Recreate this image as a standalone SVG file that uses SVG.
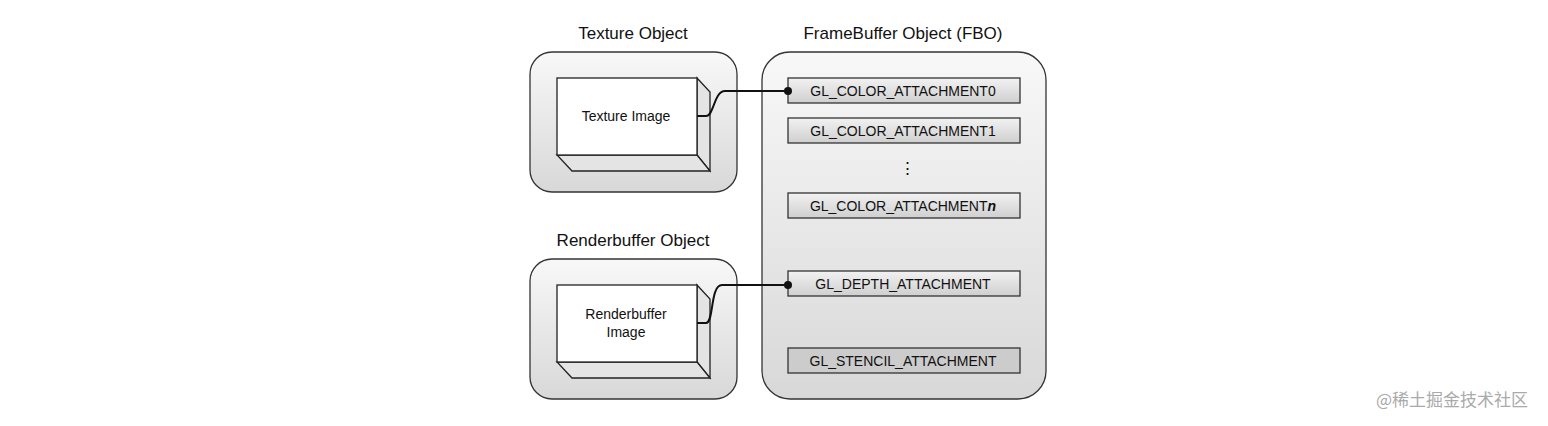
<svg xmlns="http://www.w3.org/2000/svg" width="1548" height="426" viewBox="0 0 1548 426">
<style>
text{font-family:"Liberation Sans",Arial,sans-serif;fill:#111}
.t{font-size:17px;text-anchor:middle}
.s{font-size:14px;text-anchor:middle}
.outer{fill:url(#og);stroke:#333;stroke-width:1.3}
.att{fill:url(#ag);stroke:#333;stroke-width:1.3}
.face{fill:#fff;stroke:#222;stroke-width:1.3}
.side{fill:#e4e4e4;stroke:#222;stroke-width:1.3}
.conn{fill:none;stroke:#111;stroke-width:2}
</style>
<defs>
<linearGradient id="og" x1="0" y1="0" x2="0" y2="1"><stop offset="0" stop-color="#f8f8f8"/><stop offset="1" stop-color="#d8d8d8"/></linearGradient>
<linearGradient id="ag" x1="0" y1="0" x2="0" y2="1"><stop offset="0" stop-color="#f2f2f2"/><stop offset="1" stop-color="#cfcfcf"/></linearGradient>
</defs>
<rect width="1548" height="426" fill="#fff"/>
<g id="texture">
<text class="t" x="633" y="39">Texture Object</text>
<rect class="outer" x="530" y="52" width="207" height="140" rx="22"/>
<polygon class="side" points="697,78 710,92 710,171 697,155"/>
<polygon class="side" points="557,155 697,155 710,171 572,171"/>
<rect class="face" x="557" y="78" width="140" height="77"/>
<text class="s" x="626" y="121">Texture Image</text>
</g>
<g id="renderbuffer">
<text class="t" x="633" y="246">Renderbuffer Object</text>
<rect class="outer" x="530" y="259" width="207" height="140" rx="22"/>
<polygon class="side" points="697,285 710,299 710,378 697,362"/>
<polygon class="side" points="557,362 697,362 710,378 572,378"/>
<rect class="face" x="557" y="285" width="140" height="77"/>
<text class="s" x="626" y="319">Renderbuffer</text>
<text class="s" x="626" y="337">Image</text>
</g>
<g id="fbo">
<text class="t" x="903" y="39">FrameBuffer Object (FBO)</text>
<rect class="outer" x="762" y="52" width="284" height="347" rx="28"/>
<rect class="att" x="788" y="78" width="232" height="25"/>
<text class="s" x="903" y="96">GL_COLOR_ATTACHMENT0</text>
<rect class="att" x="788" y="118" width="232" height="25"/>
<text class="s" x="903" y="136">GL_COLOR_ATTACHMENT1</text>
<text class="t" x="907" y="174">⋮</text>
<rect class="att" x="788" y="193" width="232" height="25"/>
<text class="s" x="903" y="211">GL_COLOR_ATTACHMENT<tspan font-weight="bold" font-style="italic">n</tspan></text>
<rect class="att" x="788" y="271" width="232" height="25"/>
<text class="s" x="903" y="289">GL_DEPTH_ATTACHMENT</text>
<rect class="att" x="788" y="348" width="232" height="25" style="fill:#cccccc"/>
<text class="s" x="903" y="366">GL_STENCIL_ATTACHMENT</text>
</g>
<g id="connectors">
<path class="conn" d="M697,116 H706 C714,116 714,91 725,91 H788"/>
<circle cx="788" cy="91" r="4" fill="#111"/>
<path class="conn" d="M697,323 H706 C714,323 710,285 722,285 H788"/>
<circle cx="788" cy="285" r="4" fill="#111"/>
</g>
<text x="1452" y="406" style="font-family:'Noto Sans CJK SC',sans-serif;font-size:17px;fill:#aaa;text-anchor:middle">@稀土掘金技术社区</text>
</svg>
